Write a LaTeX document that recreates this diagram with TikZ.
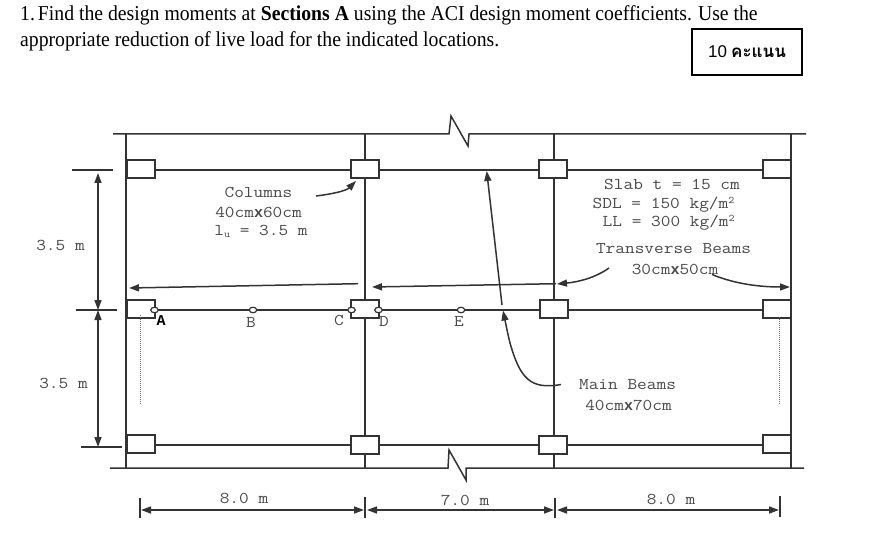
\documentclass[tikz,border=0pt]{standalone}
\usepackage{fontspec}
\usetikzlibrary{arrows.meta,shapes.geometric}
\setmainfont{Liberation Serif}
\newfontfamily\titlef[FakeStretch=0.93]{Liberation Serif}
\newfontfamily\courf[FakeStretch=1.14]{Latin Modern Mono}
\newfontfamily\boldx{Liberation Mono}
\newfontfamily\thaif[Script=Thai]{Loma}
\newfontfamily\numf{Liberation Sans}
\definecolor{ink}{HTML}{333333}
\definecolor{txt}{HTML}{4a4a4a}
\newcommand{\bx}{{\boldx\bfseries\fontsize{15}{15}\selectfont x}}
\newcommand{\supii}{\raisebox{5pt}{\fontsize{10}{10}\selectfont 2}}
\tikzset{
  every picture/.append style={x=1pt,y=-1pt},
  col/.style={draw=ink,line width=1.5pt,fill=white,minimum width=28pt,minimum height=18pt,inner sep=0pt,outer sep=0pt},
  beam/.style={draw=ink,line width=1.5pt},
  lead/.style={draw=ink,line width=1.5pt,-{Triangle[length=10pt,width=7pt]}},
  dima/.style={draw=ink,line width=1.5pt,{Triangle[length=10pt,width=7pt]}-{Triangle[length=10pt,width=7pt]}},
  tick/.style={draw=ink,line width=1.5pt},
  mono/.style={text=txt,inner sep=0pt,font=\courf\fontsize{16.5}{16.5}\selectfont},
  sect/.style={draw=ink,line width=1.2pt,fill=white,ellipse,minimum width=7.5pt,minimum height=5.5pt,inner sep=0pt},
  head/.style={text=black,inner sep=0pt,anchor=base west,font=\titlef\fontsize{21.2}{21.2}\selectfont\frenchspacing},
  hid/.style={draw=ink!70,line width=1pt,densely dotted},
}
\begin{document}
\begin{tikzpicture}
\useasboundingbox (0,0) rectangle (870,548);
\fill[white] (0,0) rectangle (870,548);
% heading
\node[head] (t1) at (20,20.5) {1.\kern3pt Find the design moments at \textbf{Sections A} using the ACI design moment coefficients.\kern6pt Use the};
\node[head] (t2) at (20,47) {appropriate reduction of live load for the indicated locations.};
\node[draw=black,line width=1.5pt,minimum width=110pt,minimum height=46pt,inner sep=0pt] (score) at (747,52)
  {\fontsize{17}{17}\selectfont{\numf 10} {\thaif\bfseries คะแนน}};
% coordinates
\coordinate (tl) at (113,134); \coordinate (tbr1) at (449,134); \coordinate (tbr2) at (451,116);
\coordinate (tbr3) at (468,146); \coordinate (tbr4) at (469,134); \coordinate (tr) at (806,134);
\coordinate (bl) at (110,468); \coordinate (bbr1) at (448,468); \coordinate (bbr2) at (449,450);
\coordinate (bbr3) at (466,480); \coordinate (bbr4) at (466,468); \coordinate (br) at (804,468);
\coordinate (c1t) at (126,134); \coordinate (c1b) at (126,468);
\coordinate (c2t) at (365,134); \coordinate (c2b) at (365,468);
\coordinate (c3t) at (554,134); \coordinate (c3b) at (554,468);
\coordinate (c4t) at (791,134); \coordinate (c4b) at (791,468);
% slab edges with break marks
\draw[beam] (tl) -- (tbr1) -- (tbr2) -- (tbr3) -- (tbr4) -- (tr);
\draw[beam] (bl) -- (bbr1) -- (bbr2) -- (bbr3) -- (bbr4) -- (br);
% transverse lines
\foreach \i in {1,2,3,4} \draw[beam] (c\i t) -- (c\i b);
% columns
\node[col] (a1) at (141,169) {}; \node[col] (a2) at (365,169) {}; \node[col] (a3) at (553,169) {}; \node[col] (a4) at (777,169) {};
\node[col] (b1) at (141,309) {}; \node[col] (b2) at (365,309) {}; \node[col] (b3) at (554,309) {}; \node[col] (b4) at (777,309) {};
\node[col] (d1) at (141,444) {}; \node[col] (d2) at (365,445) {}; \node[col] (d3) at (553,445) {}; \node[col] (d4) at (777,444) {};
% beams
\foreach \r/\y in {a/170,b/310,d/445}{
  \draw[beam] (\r1.east |- 0,\y) -- (\r2.west |- 0,\y);
  \draw[beam] (\r2.east |- 0,\y) -- (\r3.west |- 0,\y);
  \draw[beam] (\r3.east |- 0,\y) -- (\r4.west |- 0,\y);
}
% hidden lines
\coordinate (h1a) at (140,315); \coordinate (h1b) at (140,404);
\coordinate (h2a) at (779,317); \coordinate (h2b) at (779,405);
\draw[hid] (h1a) -- (h1b); \draw[hid] (h2a) -- (h2b);
% section marks
\foreach \n/\x in {sa/154.5,sb/253,sc/351.5,sd/378.5,se/461}
  \node[sect] (\n) at (\x,310) {};
\node[inner sep=0pt,text=black,font=\boldx\bfseries\fontsize{15}{15}\selectfont] (la) at (161,320.5) {A};
\node[mono] (lb) at (251,322) {B};
\node[mono] (lc) at (339,320.5) {C};
\node[mono] (ld) at (384,321) {D};
\node[mono] (le) at (459,321) {E};
% vertical dimensions
\coordinate (v1a) at (72,170); \coordinate (v1b) at (113,170);
\coordinate (v2a) at (76,310); \coordinate (v2b) at (117,310);
\coordinate (v3a) at (81,447); \coordinate (v3b) at (122,447);
\coordinate (dv1) at (98,173); \coordinate (dv2) at (98,310); \coordinate (dv3) at (98,447);
\draw[tick] (v1a) -- (v1b); \draw[tick] (v2a) -- (v2b); \draw[tick] (v3a) -- (v3b);
\draw[dima] (dv1) -- (dv2); \draw[dima] (dv2) -- (dv3);
\node[mono] (h1) at (60.5,245) {3.5 m};
\node[mono] (h2) at (63.5,383.5) {3.5 m};
% horizontal dimensions
\coordinate (x1a) at (140,498); \coordinate (x1b) at (140,518);
\coordinate (x2a) at (365,497); \coordinate (x2b) at (365,518);
\coordinate (x3a) at (555,498); \coordinate (x3b) at (555,518);
\coordinate (x4a) at (780,496); \coordinate (x4b) at (780,517);
\draw[tick] (x1a) -- (x1b); \draw[tick] (x2a) -- (x2b); \draw[tick] (x3a) -- (x3b); \draw[tick] (x4a) -- (x4b);
\coordinate (e1a) at (141,510); \coordinate (e1b) at (364,510);
\coordinate (e2a) at (367,510); \coordinate (e2b) at (554,510);
\coordinate (e3a) at (557,510); \coordinate (e3b) at (779,510);
\draw[dima] (e1a) -- (e1b); \draw[dima] (e2a) -- (e2b); \draw[dima] (e3a) -- (e3b);
\node[mono] (w1) at (244,498) {8.0 m};
\node[mono] (w2) at (465,500) {7.0 m};
\node[mono] (w3) at (671,499) {8.0 m};
% column label
\node[mono] (cl1) at (258.5,192) {Columns};
\node[mono] (cl2) at (258.5,212) {40cm\bx60cm};
\node[mono] (cl3) at (261,231.5) {l\raisebox{-2pt}{\fontsize{10}{10}\selectfont u} = 3.5 m};
\coordinate (cla) at (316,196); \coordinate (clb) at (356,181);
\draw[lead] (cla) .. controls (332,194) and (346,191) .. (clb);
% slab label
\node[mono,anchor=base west] (s1) at (604,190) {Slab t = 15 cm};
\node[mono,anchor=base west] (s2) at (592.5,208) {SDL = 150 kg/m\supii};
\node[mono,anchor=base west] (s3) at (602.5,226) {LL = 300 kg/m\supii};
% transverse beams label
\node[mono] (tb1) at (673.5,249) {Transverse Beams};
\node[mono] (tb2) at (675,269) {30cm\bx50cm};
\coordinate (tp0) at (358,283.7); \coordinate (tp1) at (129,288);
\coordinate (tp2) at (556,283.7); \coordinate (tp3) at (372,287);
\coordinate (tp4) at (609,268); \coordinate (tp5) at (557,284);
\coordinate (tp6) at (712,274.5); \coordinate (tp7) at (790,287);
\draw[lead] (tp0) -- (tp1);
\draw[lead] (tp2) -- (tp3);
\draw[lead] (tp4) .. controls (595,278) and (578,282) .. (tp5);
\draw[lead] (tp6) .. controls (735,284) and (760,287) .. (tp7);
% main beams label
\node[mono] (mb1) at (627.5,385) {Main Beams};
\node[mono] (mb2) at (628.5,405) {40cm\bx70cm};
\coordinate (mp0) at (502,305); \coordinate (mp1) at (486.7,171);
\coordinate (mp2) at (561,384.5); \coordinate (mp3) at (503,310.5);
\draw[lead] (mp0) -- (mp1);
\draw[lead] (mp2) .. controls (530,390) and (520,378) .. (510,343) .. controls (508,335) and (506,325) .. (mp3);
\end{tikzpicture}
\end{document}
